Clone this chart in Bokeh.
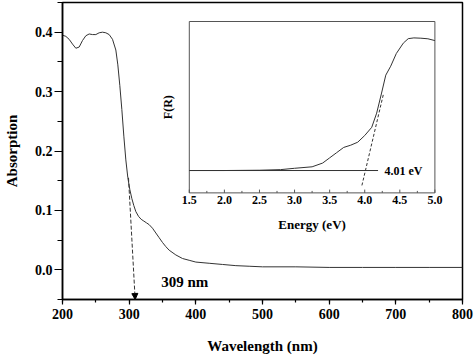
from bokeh.plotting import figure
from bokeh.models import (Range1d, SingleIntervalTicker, PrintfTickFormatter,
                          Arrow, NormalHead)
from bokeh.core.properties import value
from bokeh.embed import file_html
from bokeh.resources import INLINE

# ---- main spectrum ----
wavelength = [200, 205, 210, 215, 220, 225, 230, 235, 240, 245, 250, 255, 260, 265,
              270, 275, 280, 283, 286, 289, 292, 295, 298, 301, 304, 307, 310, 314,
              318, 322, 326, 330, 335, 340, 345, 350, 355, 360, 370, 380, 390, 400,
              420, 440, 460, 480, 500, 550, 600, 650, 700, 750, 800]
absorption = [0.395, 0.393, 0.388, 0.380, 0.373, 0.375, 0.386, 0.394, 0.397, 0.396,
              0.396, 0.399, 0.400, 0.399, 0.396, 0.388, 0.370, 0.345, 0.310, 0.270,
              0.225, 0.185, 0.155, 0.135, 0.120, 0.108, 0.098, 0.090, 0.085, 0.082,
              0.079, 0.076, 0.070, 0.062, 0.054, 0.046, 0.039, 0.033, 0.025, 0.019,
              0.016, 0.013, 0.011, 0.009, 0.007, 0.006, 0.005, 0.005, 0.004, 0.004,
              0.004, 0.004, 0.004]
onset_nm = 309
tangent_main_x = [299, onset_nm]
tangent_main_y = [0.155, -0.05]

# ---- inset (Kubelka-Munk) ----
energy = [1.5, 2.0, 2.5, 2.8, 3.0, 3.25, 3.4, 3.5, 3.6, 3.7, 3.8, 3.9, 4.0, 4.1,
          4.17, 4.24, 4.3, 4.37, 4.45, 4.55, 4.62, 4.7, 4.8, 4.9, 5.0]
fr = [0.0, 0.0, 0.002, 0.006, 0.015, 0.025, 0.05, 0.085, 0.12, 0.155, 0.17, 0.19,
      0.235, 0.29, 0.385, 0.52, 0.64, 0.70, 0.785, 0.855, 0.885, 0.89, 0.888,
      0.884, 0.872]
gap_ev = 4.01
baseline_x = [1.5, 4.19]
baseline_y = [0.0, 0.0]
tangent_inset_x = [3.96, 4.27]
tangent_inset_y = [-0.10, 0.52]
inset_x_ticks = [1.5, 2.0, 2.5, 3.0, 3.5, 4.0, 4.5, 5.0]
inset_x_minor = [1.75, 2.25, 2.75, 3.25, 3.75, 4.25, 4.75]
inset_xr = (1.5, 5.0)
inset_yr = (-0.15, 1.0)

FONT = "Liberation Serif"

p = figure(width=474, height=356, output_backend="svg", toolbar_location=None,
           x_range=Range1d(200, 800), y_range=Range1d(-0.05, 0.45),
           min_border_left=58, min_border_right=12, min_border_top=2,
           min_border_bottom=56)
p.grid.visible = False
p.background_fill_color = "white"
p.border_fill_color = "white"
p.outline_line_color = "black"
p.outline_line_width = 1.5

p.xaxis.ticker = SingleIntervalTicker(interval=100, num_minor_ticks=2)
p.yaxis.ticker = SingleIntervalTicker(interval=0.1, num_minor_ticks=2)
p.yaxis.formatter = PrintfTickFormatter(format="%.1f")
for ax in (p.xaxis, p.yaxis):
    ax.axis_line_color = "black"
    ax.axis_line_width = 1.5
    ax.major_tick_line_color = "black"
    ax.minor_tick_line_color = "black"
    ax.major_tick_line_width = 1.2
    ax.minor_tick_line_width = 1.2
    ax.major_tick_in = 0
    ax.minor_tick_in = 0
    ax.major_label_text_font = FONT
    ax.major_label_text_font_style = "bold"
    ax.major_label_text_font_size = "14px"
    ax.major_label_text_color = "black"
    ax.axis_label_text_font = FONT
    ax.axis_label_text_font_style = "bold"
    ax.axis_label_text_font_size = "15px"
    ax.axis_label_text_color = "black"
p.xaxis.major_tick_out = 5
p.xaxis.minor_tick_out = 3
p.yaxis.major_tick_out = 8
p.yaxis.minor_tick_out = 5
p.xaxis.axis_label = "Wavelength (nm)"
p.yaxis.axis_label = "Absorption"
p.xaxis.major_label_standoff = 4
p.yaxis.major_label_standoff = 2
p.xaxis.axis_label_standoff = 16
p.yaxis.axis_label_standoff = 12

p.line(wavelength, absorption, line_color="#333333", line_width=1)
p.add_layout(Arrow(end=NormalHead(size=6, fill_color="black", line_color="black"),
                   x_start=tangent_main_x[0], y_start=tangent_main_y[0],
                   x_end=tangent_main_x[1], y_end=tangent_main_y[1],
                   line_color="#333333", line_width=1, line_dash="4 2"))
p.text(x=[348], y=[-0.021], text=[f"{onset_nm} nm"], text_font=value(FONT),
       text_font_style="bold", text_font_size="15px", text_color="black",
       text_align="left", text_baseline="middle")

# ---- inset placement (fractions of the main frame) ----
fl, fr_, fb, ft = 0.317, 0.931, 0.359, 0.936
xs = (inset_xr[1] - inset_xr[0]) / (fr_ - fl)
ex0 = inset_xr[0] - fl * xs
ys = (inset_yr[1] - inset_yr[0]) / (ft - fb)
ey0 = inset_yr[0] - fb * ys
p.extra_x_ranges = {"ex": Range1d(ex0, ex0 + xs)}
p.extra_y_ranges = {"ey": Range1d(ey0, ey0 + ys)}
kw = dict(x_range_name="ex", y_range_name="ey")

p.quad(left=[inset_xr[0]], right=[inset_xr[1]], bottom=[inset_yr[0]], top=[inset_yr[1]],
       fill_color="white", line_color="#555555", line_width=1, **kw)
# inset ticks (inside)
tick_len = 0.022
p.segment(x0=inset_x_ticks, x1=inset_x_ticks, y0=[inset_yr[0]] * len(inset_x_ticks),
          y1=[inset_yr[0] + tick_len] * len(inset_x_ticks), line_color="#555555",
          line_width=1, **kw)
p.segment(x0=inset_x_minor, x1=inset_x_minor, y0=[inset_yr[0]] * len(inset_x_minor),
          y1=[inset_yr[0] + tick_len * 0.6] * len(inset_x_minor), line_color="#555555",
          line_width=1, **kw)
p.text(x=inset_x_ticks, y=[inset_yr[0]] * len(inset_x_ticks),
       text=[f"{t:.1f}" for t in inset_x_ticks], y_offset=3,
       text_font=value(FONT), text_font_style="bold", text_font_size="12px",
       text_color="black", text_align="center", text_baseline="top", **kw)
p.text(x=[(inset_xr[0] + inset_xr[1]) / 2], y=[inset_yr[0]], text=["Energy (eV)"],
       y_offset=24, text_font=value(FONT), text_font_style="bold",
       text_font_size="13px", text_color="black", text_align="center",
       text_baseline="top", **kw)
p.text(x=[inset_xr[0]], y=[(inset_yr[0] + inset_yr[1]) / 2], text=["F(R)"],
       x_offset=-21, angle=1.5708, text_font=value(FONT), text_font_style="bold",
       text_font_size="12px", text_color="black", text_align="center",
       text_baseline="middle", **kw)

p.line(baseline_x, baseline_y, line_color="#333333", line_width=1, **kw)
p.line(energy, fr, line_color="#333333", line_width=1, **kw)
p.line(tangent_inset_x, tangent_inset_y, line_color="#333333", line_width=1,
       line_dash="3 2", **kw)
p.text(x=[4.28], y=[0.0], text=[f"{gap_ev:.2f} eV"], text_font=value(FONT),
       text_font_style="bold", text_font_size="12px", text_color="black",
       text_align="left", text_baseline="middle", **kw)

open("out.html", "w").write(file_html(p, INLINE))
